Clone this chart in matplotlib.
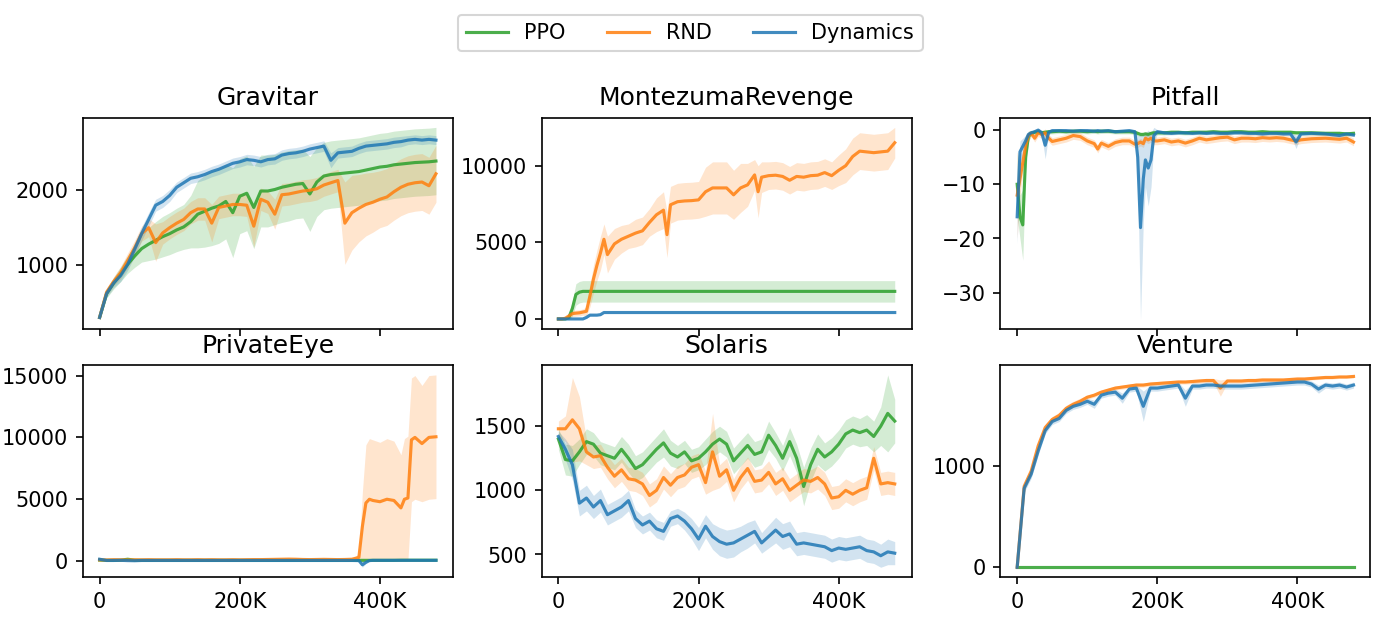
import numpy as np
import matplotlib
matplotlib.use("Agg")
import matplotlib.pyplot as plt
from matplotlib.ticker import MaxNLocator, FuncFormatter

METHODS = ['PPO', 'RND', 'Dynamics']
COLORS = ['tab:green', 'tab:orange', 'tab:blue']

# training steps in thousands (common grid)
steps_k = [0, 10, 20, 30, 40, 50, 60, 70, 80, 90,
           100, 110, 120, 130, 140, 150, 160, 170, 180, 190,
           200, 210, 220, 230, 240, 250, 260, 270, 280, 290,
           300, 310, 320, 330, 340, 350, 360, 370, 380, 390,
           400, 410, 420, 430, 440, 450, 460, 470, 480]

# ---------------- Gravitar ----------------
grav_ppo = [300, 620, 760, 880, 1010, 1120, 1220, 1280, 1330, 1380,
            1420, 1470, 1510, 1580, 1680, 1720, 1760, 1790, 1850, 1700,
            1920, 1960, 1770, 1990, 1990, 2010, 2040, 2060, 2080, 2090,
            1950, 2110, 2190, 2210, 2220, 2230, 2240, 2250, 2270, 2290,
            2310, 2320, 2340, 2350, 2360, 2370, 2375, 2380, 2390]
grav_ppo_sd = [30, 60, 80, 100, 120, 150, 180, 220, 250, 270,
               280, 290, 300, 350, 450, 480, 500, 500, 500, 600,
               500, 500, 550, 480, 480, 470, 470, 470, 460, 460,
               500, 460, 450, 450, 450, 450, 450, 450, 450, 450,
               450, 450, 450, 450, 450, 450, 450, 450, 450]
grav_rnd = [300, 640, 780, 900, 1060, 1230, 1420, 1500, 1300, 1430,
            1500, 1560, 1610, 1700, 1750, 1750, 1560, 1770, 1790, 1810,
            1810, 1800, 1520, 1880, 1840, 1680, 1940, 1950, 1970, 1990,
            2000, 2020, 2070, 2100, 2130, 1560, 1700, 1760, 1810, 1840,
            1880, 1910, 1980, 2040, 2080, 2100, 2110, 2060, 2220]
grav_rnd_sd = [30, 50, 60, 80, 100, 100, 100, 120, 250, 150,
               150, 150, 150, 150, 150, 150, 250, 150, 150, 150,
               150, 150, 280, 150, 150, 200, 150, 150, 150, 150,
               150, 150, 150, 150, 150, 550, 500, 450, 420, 400,
               380, 380, 380, 380, 380, 380, 380, 380, 380]
grav_dyn = [300, 620, 760, 860, 1010, 1210, 1420, 1610, 1800, 1850,
            1930, 2040, 2100, 2160, 2180, 2210, 2250, 2280, 2320, 2360,
            2380, 2410, 2400, 2380, 2410, 2420, 2470, 2490, 2500, 2520,
            2550, 2570, 2590, 2400, 2500, 2510, 2520, 2560, 2590, 2600,
            2610, 2620, 2640, 2650, 2670, 2680, 2670, 2680, 2670]
grav_dyn_sd = [20, 50, 60, 80, 80, 90, 90, 90, 80, 80,
               80, 70, 70, 70, 70, 70, 70, 70, 70, 70,
               70, 70, 70, 70, 70, 70, 70, 70, 70, 70,
               70, 70, 70, 100, 70, 70, 70, 70, 70, 70,
               70, 70, 70, 70, 60, 60, 60, 60, 60]

# ---------------- MontezumaRevenge ----------------
mr_steps_k = [0, 5, 10, 15, 20, 25, 30, 35, 40, 45,
              50, 55, 60, 65, 70, 80, 90, 100, 110, 120,
              130, 140, 150, 155, 160, 170, 180, 190, 200, 210,
              220, 230, 240, 250, 260, 270, 280, 285, 290, 300,
              310, 320, 330, 340, 350, 360, 370, 380, 390, 400,
              410, 420, 430, 440, 450, 460, 470, 480]
mr_ppo = [0, 0, 0, 100, 700, 1600, 1750, 1800] + [1800] * 50
mr_ppo_sd = [0, 0, 0, 150, 500, 700, 700, 700] + [700] * 50
mr_rnd = [0, 0, 50, 200, 350, 380, 400, 450, 500, 1500,
          2600, 3500, 4300, 5200, 4200, 4900, 5200, 5400, 5600, 5750,
          6300, 6800, 7100, 5500, 7450, 7650, 7700, 7720, 7770, 8300,
          8550, 8550, 8550, 8100, 8550, 8750, 9400, 8300, 9250, 9350,
          9380, 9300, 9050, 9300, 9250, 9350, 9380, 9550, 9350, 9700,
          10000, 10600, 10950, 10900, 10850, 10900, 10950, 11500]
mr_rnd_sd = [0, 0, 50, 150, 200, 200, 200, 200, 300, 700,
             900, 1000, 1100, 1000, 1200, 1000, 900, 800, 900, 900,
             900, 1100, 1200, 1500, 1200, 1200, 1200, 1200, 1200, 1600,
             1700, 1700, 1700, 1600, 1600, 1400, 1000, 1700, 1000, 900,
             900, 900, 900, 900, 900, 900, 900, 900, 900, 1000,
             1100, 1200, 1200, 1200, 1200, 1200, 1200, 1000]
mr_dyn = [0, 0, 0, 0, 0, 0, 0, 0, 100, 250,
          250, 250, 280, 420, 420] + [420] * 43
mr_dyn_sd = [0, 0, 0, 0, 0, 0, 0, 0, 50, 60,
             50, 50, 60, 40, 30] + [30] * 43

# ---------------- Pitfall ----------------
pit_steps_k = [0, 4, 8, 12, 16, 20, 25, 30, 35, 40,
               45, 50, 60, 70, 80, 90, 100, 110, 115, 120,
               130, 140, 150, 160, 168, 172, 176, 180, 183, 187,
               191, 195, 200, 210, 220, 230, 240, 250, 260, 270,
               280, 290, 300, 310, 320, 330, 340, 350, 360, 370,
               380, 390, 398, 405, 420, 440, 460, 470, 480]
pit_ppo = [-10, -16, -17.5, -5, -1.2, -0.6, -0.4, -0.3, -0.5, -0.4,
           -0.3, -0.3, -0.2, -0.3, -0.2, -0.2, -0.3, -0.2, -0.3, -0.2,
           -0.2, -0.3, -0.3, -0.3, -0.4, -0.6, -0.8, -0.8, -0.7, -0.8,
           -0.6, -0.5, -0.5, -0.5, -0.4, -0.4, -0.5, -0.4, -0.4, -0.4,
           -0.3, -0.4, -0.4, -0.3, -0.3, -0.4, -0.4, -0.3, -0.4, -0.4,
           -0.4, -0.4, -0.5, -0.5, -0.5, -0.6, -0.6, -0.7, -0.6]
pit_ppo_sd = [6, 4, 6.5, 3, 1, 0.5] + [0.4] * 53
pit_rnd = [-12, -9, -6, -3, -1, -0.6, -1.5, -0.5, -0.8, -0.5,
           -1.5, -2.1, -1.8, -1.5, -1.0, -1.2, -2.0, -2.5, -3.5, -2.4,
           -3.0, -2.3, -2.0, -2.0, -2.6, -2.5, -2.2, -2.5, -1.5, -1.8,
           -1.5, -2.0, -2.0, -1.8, -2.2, -2.0, -2.4, -2.0, -1.5, -1.8,
           -1.6, -1.4, -1.3, -1.8, -1.5, -1.5, -1.6, -1.4, -1.5, -1.4,
           -1.5, -1.8, -2.0, -1.8, -1.6, -1.5, -1.7, -1.5, -2.2]
pit_rnd_sd = [8, 3, 2, 1.5, 0.8, 0.6] + [0.7] * 53
pit_dyn = [-16, -4, -3, -2, -0.8, -0.5, -0.3, 0, -0.5, -2.8,
           -0.4, -0.1, -0.1, -0.1, -0.2, -0.1, -0.1, -0.2, -0.1, -0.2,
           -0.1, -0.3, -0.2, -0.1, -0.3, -5, -18, -9, -5.5, -7,
           -5.5, -1, -0.3, -0.5, -0.6, -0.5, -0.5, -0.6, -0.5, -0.6,
           -0.5, -0.6, -0.6, -0.5, -0.5, -0.6, -0.6, -0.7, -0.6, -0.6,
           -0.7, -0.7, -2.2, -0.7, -0.6, -0.7, -1.0, -0.7, -0.9]
pit_dyn_sd = [5, 2, 1.5, 1, 0.5, 0.4, 0.3, 0.3, 0.5, 2.5,
              0.4, 0.3, 0.3, 0.3, 0.3, 0.3, 0.3, 0.3, 0.3, 0.3,
              0.3, 0.3, 0.3, 0.3, 0.4, 4, 17, 8, 5, 7,
              5, 1.5, 0.4, 0.3, 0.3, 0.3, 0.3, 0.3, 0.3, 0.3,
              0.3, 0.3, 0.3, 0.3, 0.3, 0.3, 0.3, 0.3, 0.3, 0.3,
              0.3, 0.3, 1.2, 0.3, 0.3, 0.3, 0.4, 0.3, 0.3]

# ---------------- PrivateEye ----------------
pe_steps_k = [0, 10, 20, 30, 40, 50, 60, 70, 80, 90,
              100, 110, 120, 130, 140, 150, 160, 170, 180, 190,
              200, 210, 220, 230, 240, 250, 260, 270, 280, 290,
              300, 310, 320, 330, 340, 350, 360, 370, 375, 380,
              385, 390, 400, 410, 420, 430, 435, 440, 445, 450,
              460, 470, 480]
pe_ppo = [80, 60, 60, 70, 150, 70] + [60] * 39 + [70] * 8
pe_ppo_sd = [40, 30, 30, 30, 60, 30] + [30] * 47
pe_rnd = [100, 90, 110, 100, 90, 100, 100, 110, 100, 100,
          100, 110, 100, 100, 110, 100, 110, 100, 100, 110,
          100, 110, 120, 120, 130, 140, 150, 160, 150, 130,
          120, 130, 140, 130, 120, 130, 150, 300, 2800, 4700,
          5000, 4900, 4800, 5000, 4900, 4300, 5000, 5100, 9800, 10000,
          9500, 10000, 10050]
pe_rnd_sd = [40] * 37 + [300, 2800, 4700,
                         4900, 4900, 4800, 4900, 4800, 4300, 4900, 5000, 5000, 5000,
                         4700, 5000, 5000]
pe_dyn = [150, 50, 50, 60, 40, 30] + [50] * 31 + [40, -300, -100, 40] + [60] * 12
pe_dyn_sd = [60, 30, 30, 30, 30, 30] + [30] * 31 + [60, 200, 100, 40] + [30] * 12

# ---------------- Solaris ----------------
sol_ppo = [1400, 1240, 1230, 1300, 1380, 1360, 1290, 1270, 1250, 1320,
           1250, 1170, 1200, 1260, 1320, 1370, 1290, 1260, 1300, 1230,
           1250, 1300, 1360, 1400, 1360, 1230, 1290, 1350, 1280, 1300,
           1430, 1350, 1250, 1380, 1250, 1030, 1200, 1320, 1260, 1300,
           1360, 1440, 1470, 1450, 1470, 1420, 1500, 1600, 1540]
sol_ppo_sd = [80, 120, 120, 100, 100, 90, 90, 90, 90, 100,
              110, 100, 100, 100, 100, 110, 100, 90, 90, 90,
              90, 100, 100, 100, 100, 100, 100, 100, 100, 100,
              110, 100, 100, 110, 110, 150, 130, 120, 110, 110,
              110, 110, 110, 110, 120, 120, 150, 300, 170]
sol_rnd = [1480, 1480, 1550, 1480, 1300, 1260, 1270, 1180, 1110, 1160,
           1090, 1080, 1050, 960, 1000, 1100, 1040, 1100, 1120, 1180,
           1200, 1060, 1300, 1110, 1160, 1000, 1100, 1170, 1070, 1080,
           1140, 1050, 1090, 1000, 1040, 1080, 1070, 1100, 1050, 940,
           950, 1000, 970, 1000, 1020, 1250, 1050, 1060, 1050]
sol_rnd_sd = [60, 100, 330, 250, 100, 90, 90, 90, 90, 90,
              90, 90, 90, 90, 90, 90, 90, 90, 90, 90,
              90, 90, 300, 90, 90, 90, 90, 90, 90, 90,
              90, 90, 90, 90, 90, 90, 90, 90, 90, 90,
              90, 90, 90, 90, 90, 90, 90, 90, 90]
sol_dyn = [1420, 1320, 1200, 900, 940, 870, 920, 810, 840, 870,
           920, 780, 730, 760, 700, 680, 780, 800, 760, 700,
           620, 720, 640, 600, 580, 590, 620, 650, 680, 590,
           640, 690, 640, 660, 580, 590, 580, 570, 560, 530,
           550, 540, 550, 560, 530, 520, 490, 520, 510]
sol_dyn_sd = [40, 80, 120, 100, 100, 90, 90, 80, 80, 80,
              80, 70, 70, 70, 70, 70, 60, 60, 70, 80,
              90, 90, 100, 110, 110, 110, 100, 100, 90, 80,
              90, 100, 100, 100, 90, 90, 90, 90, 90, 90,
              90, 90, 90, 90, 90, 90, 90, 100, 90]

# ---------------- Venture ----------------
ven_ppo = [0] * 49
ven_ppo_sd = [0] * 49
ven_rnd = [0, 800, 950, 1200, 1380, 1460, 1500, 1570, 1610, 1640,
           1680, 1700, 1730, 1750, 1770, 1780, 1790, 1800, 1800, 1810,
           1815, 1820, 1825, 1830, 1830, 1835, 1840, 1845, 1845, 1770,
           1840, 1840, 1840, 1845, 1845, 1850, 1850, 1850, 1850, 1855,
           1860, 1860, 1865, 1870, 1875, 1875, 1880, 1880, 1885]
ven_rnd_sd = [0, 40, 40, 40, 30, 30, 30, 30, 30, 30,
              20, 20, 20, 20, 20, 20, 20, 20, 20, 20,
              20, 20, 20, 20, 20, 20, 20, 20, 20, 80,
              20, 20, 20, 20, 20, 20, 20, 20, 20, 20,
              15, 15, 15, 15, 15, 15, 15, 15, 15]
ven_dyn = [0, 780, 920, 1150, 1350, 1440, 1470, 1550, 1590, 1610,
           1640, 1610, 1700, 1720, 1730, 1670, 1760, 1770, 1590, 1770,
           1770, 1780, 1790, 1800, 1670, 1790, 1790, 1800, 1800, 1790,
           1790, 1790, 1790, 1795, 1800, 1805, 1810, 1815, 1820, 1825,
           1830, 1830, 1810, 1760, 1800, 1790, 1800, 1780, 1800]
ven_dyn_sd = [0, 40, 40, 40, 30, 30, 30, 30, 30, 30,
              30, 40, 30, 30, 30, 50, 30, 30, 150, 30,
              30, 30, 30, 30, 80, 30, 30, 30, 30, 30,
              30, 30, 30, 30, 30, 30, 30, 30, 30, 30,
              30, 30, 30, 40, 30, 30, 30, 30, 30]


def _k_format(v, pos):
    if v == 0:
        return '0'
    return '%dK' % int(round(v / 1000))


def _plot_game(ax, title, steps, curves):
    """Draw mean curve + shaded band for every method on one axes."""
    x = np.array(steps) * 1000
    for (mean, sd), c, name in zip(curves, COLORS, METHODS):
        mean = np.array(mean, dtype=float)
        sd = np.array(sd, dtype=float)
        ax.fill_between(x, mean - sd, mean + sd, color=c, alpha=0.2, linewidth=0)
        ax.plot(x, mean, color=c, alpha=0.85, linewidth=1.5, label=name)
    ax.set_title(title)
    ax.yaxis.set_major_locator(MaxNLocator(nbins=4, steps=[1, 2, 2.5, 5, 10]))
    ax.xaxis.set_major_locator(MaxNLocator(nbins=4, steps=[1, 2, 2.5, 5, 10]))
    ax.xaxis.set_major_formatter(FuncFormatter(_k_format))


fig, axes = plt.subplots(2, 3, figsize=(9.2, 4.114), dpi=150, sharex='col')
fig.subplots_adjust(left=0.060, right=0.993, bottom=0.065, top=0.809,
                    wspace=0.24, hspace=0.17)

_plot_game(axes[0, 0], 'Gravitar', steps_k,
           [(grav_ppo, grav_ppo_sd), (grav_rnd, grav_rnd_sd), (grav_dyn, grav_dyn_sd)])
_plot_game(axes[0, 1], 'MontezumaRevenge', mr_steps_k,
           [(mr_ppo, mr_ppo_sd), (mr_rnd, mr_rnd_sd), (mr_dyn, mr_dyn_sd)])
_plot_game(axes[0, 2], 'Pitfall', pit_steps_k,
           [(pit_ppo, pit_ppo_sd), (pit_rnd, pit_rnd_sd), (pit_dyn, pit_dyn_sd)])
_plot_game(axes[1, 0], 'PrivateEye', pe_steps_k,
           [(pe_ppo, pe_ppo_sd), (pe_rnd, pe_rnd_sd), (pe_dyn, pe_dyn_sd)])
_plot_game(axes[1, 1], 'Solaris', steps_k,
           [(sol_ppo, sol_ppo_sd), (sol_rnd, sol_rnd_sd), (sol_dyn, sol_dyn_sd)])
_plot_game(axes[1, 2], 'Venture', steps_k,
           [(ven_ppo, ven_ppo_sd), (ven_rnd, ven_rnd_sd), (ven_dyn, ven_dyn_sd)])

handles, labels = axes[0, 0].get_legend_handles_labels()
fig.legend(handles, labels, loc='upper center', bbox_to_anchor=(0.5, 0.993), ncol=3)

fig.savefig('out.png', dpi=150)
